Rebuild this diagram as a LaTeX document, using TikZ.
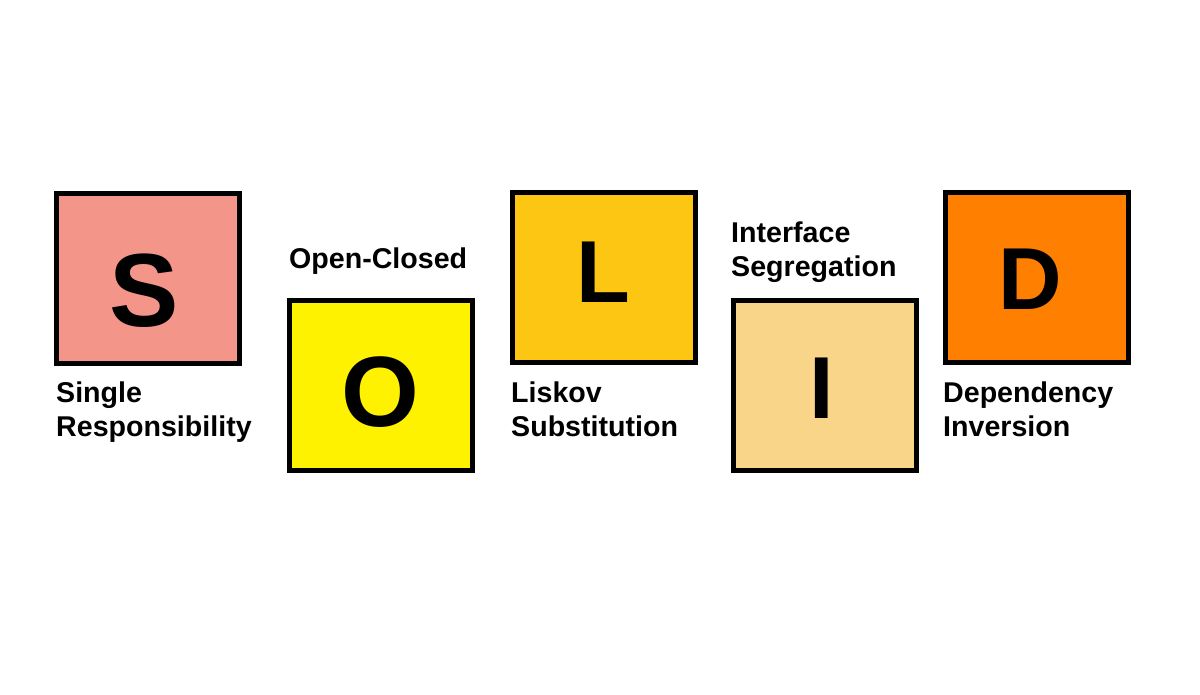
\documentclass[tikz,border=0pt]{standalone}
\usepackage{fontspec}
\setmainfont{Liberation Sans}
\definecolor{cS}{HTML}{F4958A}
\definecolor{cO}{HTML}{FFF200}
\definecolor{cL}{HTML}{FCC612}
\definecolor{cI}{HTML}{F9D589}
\definecolor{cD}{HTML}{FF8000}
\begin{document}
\begin{tikzpicture}[x=1pt,y=-1pt,
  letterbox/.style={draw=black, line width=5pt, minimum width=183pt, minimum height=170pt, inner sep=0pt, outer sep=0pt},
  bigletter/.style={inner sep=0pt, anchor=base, font=\bfseries\fontsize{#1}{#1}\selectfont},
  caption/.style={inner sep=0pt, anchor=base west, align=left, font=\bfseries\fontsize{28.6}{34}\selectfont}]
\useasboundingbox (0,0) rectangle (1200,694);
\fill[white] (0,0) rectangle (1200,694);
% boxes
\node[letterbox, fill=cS] (boxS) at (148,278) {};
\node[letterbox, fill=cO] (boxO) at (381,385) {};
\node[letterbox, fill=cL] (boxL) at (603.5,277) {};
\node[letterbox, fill=cI] (boxI) at (824.5,385.5) {};
\node[letterbox, fill=cD] (boxD) at (1037,277) {};
% letters
\node[bigletter=104] (letS) at (144.5,326) {S};
\node[bigletter=100] (letO) at (380,426) {O};
\node[bigletter=88] (letL) at (603,302) {L};
\node[bigletter=88] (letI) at (822,418) {I};
\node[bigletter=88] (letD) at (1030,309) {D};
% captions (base anchor = baseline of last line)
\node[caption] (capS) at (56,436) {Single\\Responsibility};
\node[caption] (capO) at (289,268) {Open-Closed};
\node[caption] (capL) at (511,436.5) {Liskov\\Substitution};
\node[caption] (capI) at (731,276) {Interface\\Segregation};
\node[caption] (capD) at (943,436) {Dependency\\Inversion};
\end{tikzpicture}
\end{document}
